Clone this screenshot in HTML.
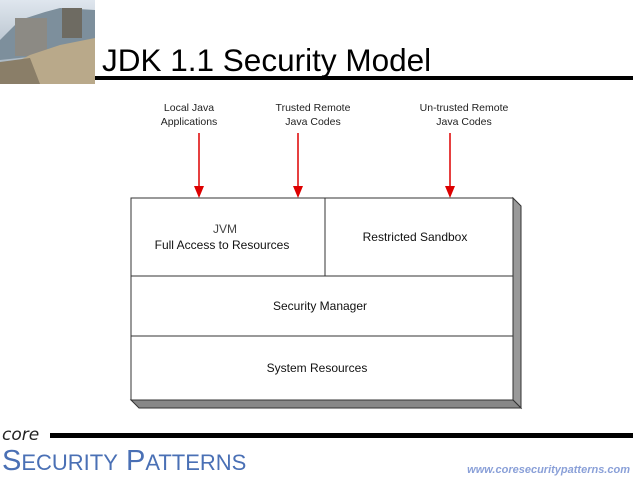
<!DOCTYPE html>
<html><head><meta charset="utf-8"><style>
body{margin:0;width:638px;height:478px;background:#fff;position:relative;overflow:hidden;font-family:"Liberation Sans",sans-serif}
.a{position:absolute}
</style></head><body>
<svg class="a" style="left:0;top:0" width="638" height="478">
<defs>
<linearGradient id="sky" x1="0" y1="0" x2="0" y2="1"><stop offset="0" stop-color="#dfe6ee"/><stop offset="1" stop-color="#9aa9b5"/></linearGradient>
</defs>
<rect x="0" y="0" width="95" height="84" fill="url(#sky)"/>
<polygon points="0,40 20,20 45,12 60,8 95,10 95,50 0,60" fill="#7d8f9c"/>
<rect x="15" y="18" width="32" height="38" fill="#8c8a84"/>
<rect x="62" y="8" width="20" height="30" fill="#6e6b62"/>
<polygon points="0,70 30,55 60,45 95,38 95,84 0,84" fill="#b9a98a"/>
<polygon points="0,84 0,62 30,58 40,84" fill="#8a7e68"/>
<rect x="95" y="76" width="538" height="4" fill="#000"/>
<text x="102" y="71" font-size="31.5" font-family="Liberation Sans">JDK 1.1 Security Model</text>
<g font-size="10.5" text-anchor="middle" fill="#222">
<text x="189" y="111">Local Java</text><text x="189" y="125">Applications</text>
<text x="313" y="111">Trusted Remote</text><text x="313" y="125">Java Codes</text>
<text x="464" y="111">Un-trusted Remote</text><text x="464" y="125">Java Codes</text>
</g>
<g stroke="#d00" stroke-width="1.5" fill="#d00">
<line x1="199" y1="133" x2="199" y2="190"/><polygon points="194,186 204,186 199,198" stroke="none"/>
<line x1="298" y1="133" x2="298" y2="190"/><polygon points="293,186 303,186 298,198" stroke="none"/>
<line x1="450" y1="133" x2="450" y2="190"/><polygon points="445,186 455,186 450,198" stroke="none"/>
</g>
<polygon points="513,198 521,206 521,408 513,400" fill="#999" stroke="#333" stroke-width="1"/>
<polygon points="131,400 513,400 521,408 139,408" fill="#888" stroke="#333" stroke-width="1"/>
<rect x="131" y="198" width="382" height="202" fill="#fff" stroke="#333" stroke-width="1"/>
<line x1="131" y1="276" x2="513" y2="276" stroke="#333"/>
<line x1="131" y1="336" x2="513" y2="336" stroke="#333"/>
<line x1="325" y1="198" x2="325" y2="276" stroke="#333"/>
<g font-size="12" text-anchor="middle" fill="#111">
<text x="225" y="233" fill="#444">JVM</text>
<text x="222" y="249">Full Access to Resources</text>
<text x="415" y="241">Restricted Sandbox</text>
<text x="320" y="310">Security Manager</text>
<text x="317" y="372">System Resources</text>
</g>
<rect x="50" y="433" width="583" height="5" fill="#000"/>
<text x="2" y="440" font-size="17" font-style="italic" font-family="DejaVu Sans" fill="#222">core</text>
<text x="2" y="470" font-size="29" fill="#4a70b5" font-family="Liberation Sans">S<tspan font-size="22">ECURITY</tspan> P<tspan font-size="22">ATTERNS</tspan></text>
<text x="630" y="473" font-size="11" font-style="italic" font-weight="bold" fill="#8aa0d8" text-anchor="end">www.coresecuritypatterns.com</text>
</svg>
</body></html>
